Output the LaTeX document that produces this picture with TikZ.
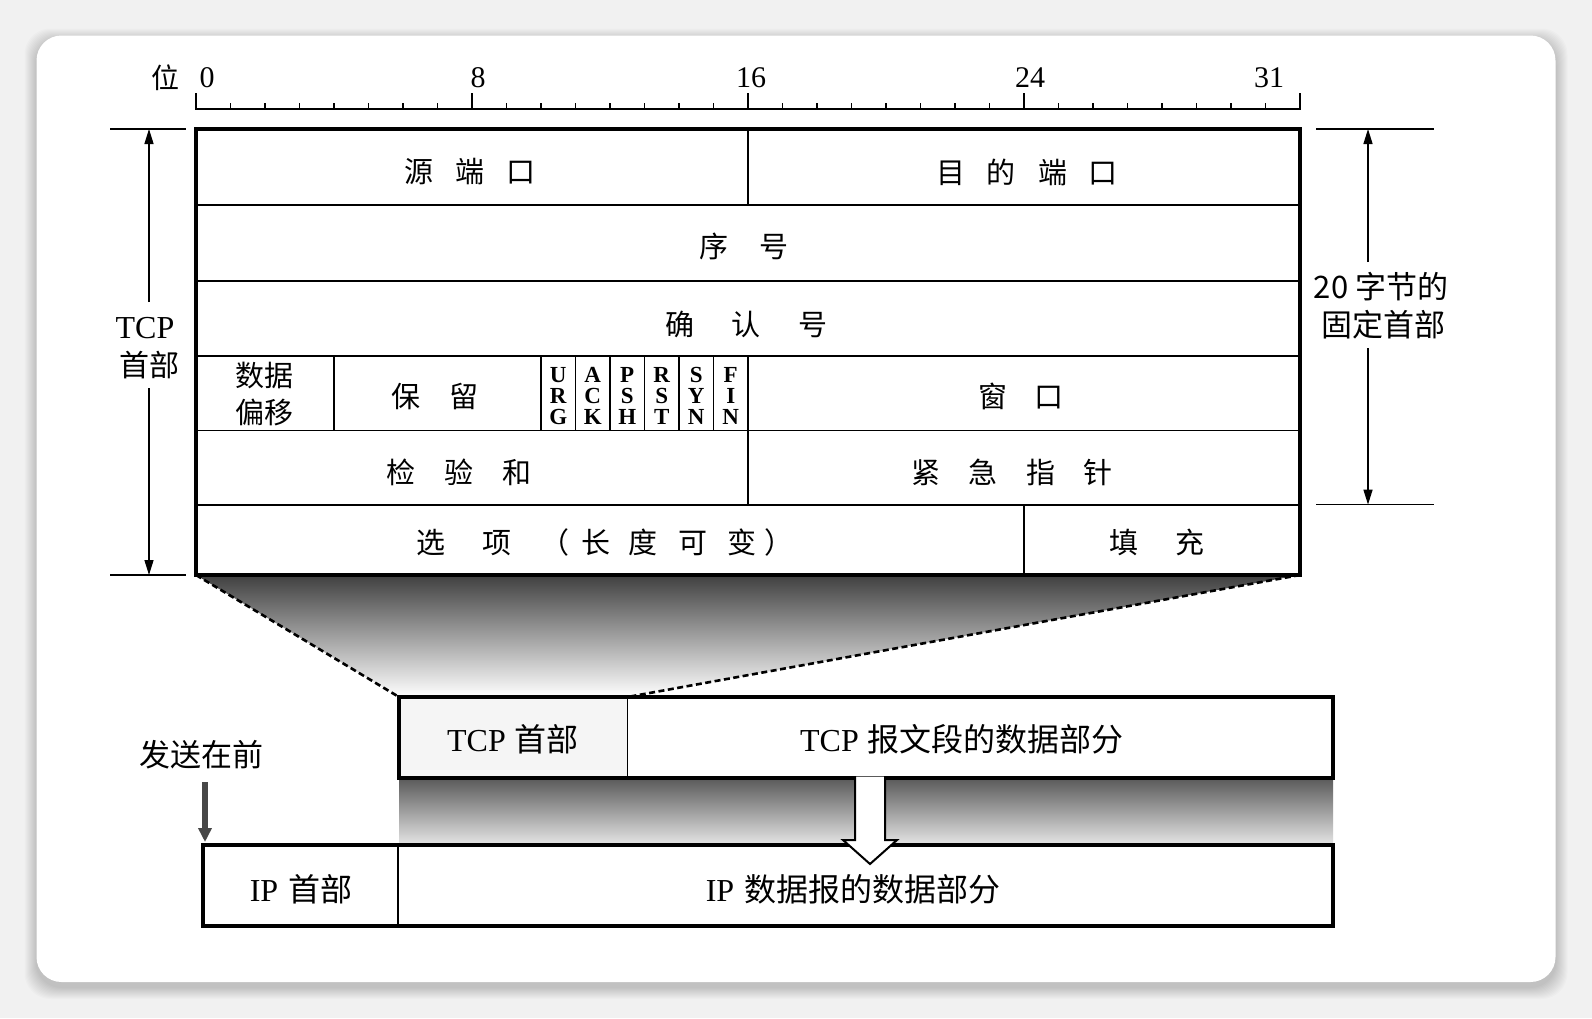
\documentclass[tikz,border=0pt]{standalone}
\usepackage{fontspec}
\setmainfont{Liberation Serif}
\newfontfamily\cjk{Noto Sans CJK SC}
\usetikzlibrary{arrows.meta}
\newcommand\gp[1]{\hspace*{#1pt}}
\newcommand\fs[1]{\fontsize{#1}{#1}\selectfont}
\definecolor{pagebg}{HTML}{F1F1F1}
\begin{document}
\begin{tikzpicture}[x=1pt,y=-1pt,
  cell/.style={inner sep=0pt, font=\cjk\fs{29}},
  num/.style={inner sep=0pt, font=\fs{30}},
  flag/.style={inner sep=0pt, align=center, font=\bfseries\fontsize{23}{21}\selectfont},
  seglbl/.style={inner sep=0pt, font=\fs{32}},
  gridline/.style={line width=1.8pt},
  frame/.style={line width=3.5pt},
  segframe/.style={line width=4pt},
  rul/.style={line width=1.8pt},
  dim/.style={line width=1.4pt},
  dimarrow/.style={line width=1.4pt, -{Triangle[length=15pt,width=9pt]}},
  connect/.style={line width=2.6pt, dash pattern=on 6pt off 3.5pt},
]
\useasboundingbox (0,0) rectangle (1592,1018);
\fill[pagebg] (0,0) rectangle (1592,1018);
\foreach \i in {1,...,12}
  \fill[black, opacity=0.015, rounded corners=26pt] (36.5-\i,35.5-\i+5) rectangle (1555.5+\i,982+\i+5);
\fill[white, rounded corners=25pt] (36.5,35.5) rectangle (1555.5,982);

% ---- ruler ----
\draw[rul] (196,93) -- (196,109) -- (1300,109) -- (1300,93);
\foreach \b in {1,...,31} \draw[rul] ({196+34.5*\b},109) -- ++(0,-6);
\foreach \b in {8,16,24} \draw[rul] ({196+34.5*\b},109) -- ++(0,-16);
\node[cell, font=\cjk\fs{28}] (wei) at (165,78) {位};
\node[num] (b0) at (207,78) {0};
\node[num] (b8) at (478,78) {8};
\node[num] (b16) at (751,78) {16};
\node[num] (b24) at (1030,78) {24};
\node[num] (b31) at (1269,78) {31};

% ---- corner coordinates ----
\coordinate (hBL) at (196,575);
\coordinate (hBR) at (1300,575);
\coordinate (sTL) at (399,697);
\coordinate (sDiv) at (627.5,697);

% ---- funnel shading ----
\shade[top color=black!75, middle color=black!35, bottom color=white] (hBL) -- (hBR) -- (sDiv) -- (sTL) -- cycle;
\draw[connect] (hBL) -- (sTL);
\draw[connect] (hBR) -- (sDiv);

% ---- header grid ----
\fill[white] (196,129) rectangle (1300,575);
\draw[gridline] (196,205) -- (1300,205);
\draw[gridline] (196,281) -- (1300,281);
\draw[gridline] (196,356) -- (1300,356);
\draw[gridline] (196,430.5) -- (1300,430.5);
\draw[gridline] (196,504.6) -- (1300,504.6);
\draw[gridline] (748,129) -- (748,205);
\foreach \b in {4,10,11,12,13,14,15,16} \draw[gridline] ({196+34.5*\b},356) -- ({196+34.5*\b},430.5);
\draw[gridline] (748,430.5) -- (748,504.6);
\draw[gridline] (1024,504.6) -- (1024,575);
\draw[frame] (196,129) rectangle (1300,575);

% ---- header texts ----
\node[cell] (src) at (470,172) {源\gp{22}端\gp{22}口};
\node[cell] (dst) at (1027,172) {目\gp{22}的\gp{22}端\gp{22}口};
\node[cell] (seq) at (744,246) {序\gp{31}号};
\node[cell] (ack) at (746,324) {确\gp{37.5}认\gp{37.5}号};
\node[cell, align=center, font=\cjk\fontsize{29}{37}\selectfont] (off) at (264,394) {数据\\偏移};
\node[cell] (rsv) at (435,396) {保\gp{29}留};
\node[flag] (furg) at (558.25,396) {U\\R\\G};
\node[flag] (fack) at (592.75,396) {A\\C\\K};
\node[flag] (fpsh) at (627.25,396) {P\\S\\H};
\node[flag] (frst) at (661.75,396) {R\\S\\T};
\node[flag] (fsyn) at (696.25,396) {S\\Y\\N};
\node[flag] (ffin) at (730.75,396) {F\\I\\N};
\node[cell] (win) at (1021,396) {窗\gp{28}口};
\node[cell] (chk) at (459,472) {检\gp{29.4}验\gp{29.4}和};
\node[cell] (urp) at (1012,472) {紧\gp{28.5}急\gp{28.5}指\gp{28.5}针};
\node[cell, anchor=west] (opt) at (416,542) {选\gp{37}项\gp{29}（\gp{12.5}长\gp{17.7}度\gp{20.7}可\gp{20.8}变\gp{7.6}）};
\node[cell] (pad) at (1157,542) {填\gp{37}充};

% ---- left dimension ----
\draw[dim] (110,129) -- (186,129);
\draw[dim] (110,575) -- (186,575);
\coordinate (ltop) at (149,129);
\coordinate (lbot) at (149,575);
\coordinate (lu) at (149,302);
\coordinate (ld) at (149,388);
\node[inner sep=0pt, font=\fs{32}] (tcpA) at (145,328) {TCP};
\node[inner sep=0pt, font=\cjk\fs{30}] (tcpB) at (149,365.5) {首部};
\draw[dimarrow] (lu) -- (ltop);
\draw[dimarrow] (ld) -- (lbot);

% ---- right dimension ----
\draw[dim] (1316,129) -- (1434,129);
\draw[dim] (1316,504.6) -- (1434,504.6);
\coordinate (rtop) at (1368,129);
\coordinate (rbot) at (1368,504.6);
\coordinate (ru) at (1368,262);
\coordinate (rd) at (1368,348);
\node[inner sep=0pt, font=\cjk\fs{31}] (fixA) at (1381,287) {20 字节的};
\node[inner sep=0pt, font=\cjk\fs{31}] (fixB) at (1383,325) {固定首部};
\draw[dimarrow] (ru) -- (rtop);
\draw[dimarrow] (rd) -- (rbot);

% ---- TCP segment ----
\fill[black!4] (399,697) rectangle (627.5,778);
\shade[top color=black!65, bottom color=black!10] (399,778) rectangle (1333,845);
\draw[segframe] (399,697) rectangle (1333,778);
\draw[gridline] (627.5,697) -- (627.5,778);
\node[seglbl] (tcph) at (513,739) {TCP\gp{9}{\cjk 首部}};
\node[seglbl] (tcpd) at (962,739) {TCP\gp{9}{\cjk 报文段的数据部分}};

% ---- IP datagram ----
\fill[white] (203,845) rectangle (1333,926);
\draw[segframe] (203,845) rectangle (1333,926);
\draw[gridline] (398,845) -- (398,926);
\node[seglbl] (iph) at (301,889) {IP\gp{10}{\cjk 首部}};
\node[seglbl] (ipd) at (853,889) {IP\gp{10}{\cjk 数据报的数据部分}};

% ---- hollow arrow ----
\fill[white] (855,776.5) -- (855,840) -- (843,840) -- (870,864) -- (897,840) -- (885,840) -- (885,776.5) -- cycle;
\draw[line width=2pt, line join=miter] (855,776) -- (855,840) -- (843,840) -- (870,864) -- (897,840) -- (885,840) -- (885,776);

% ---- send first ----
\node[inner sep=0pt, font=\cjk\fs{31}] (send) at (201,754.5) {发送在前};
\coordinate (sendA) at (205,782);
\coordinate (sendB) at (205,842);
\draw[line width=6pt, black!72, -{Triangle[length=14pt,width=13pt]}] (sendA) -- (sendB);
\end{tikzpicture}
\end{document}
